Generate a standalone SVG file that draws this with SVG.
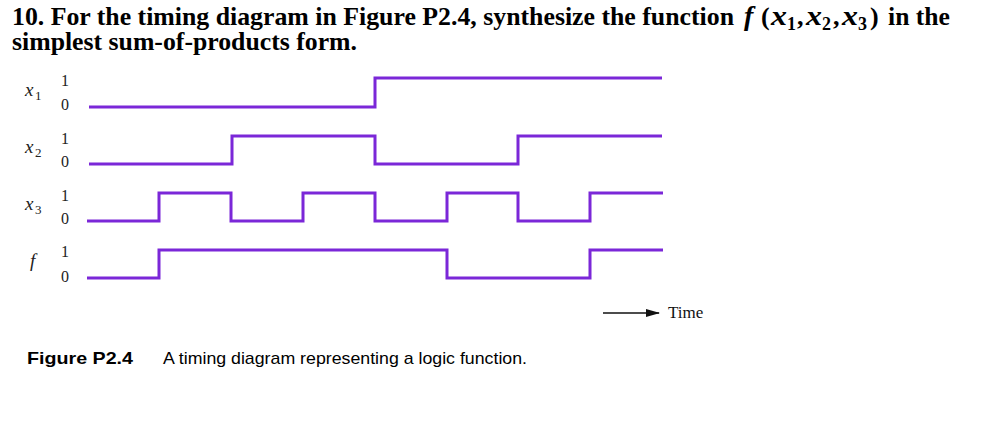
<svg xmlns="http://www.w3.org/2000/svg" width="1003" height="427" viewBox="0 0 1003 427">
<style>
.title{font-family:"Liberation Serif",serif;font-weight:bold;font-size:25px;fill:#000}
.mr{font-family:"Liberation Serif",serif;font-size:26px;font-weight:bold;fill:#000}
.mi{font-family:"Liberation Serif",serif;font-style:italic;font-weight:bold;font-size:28px;fill:#000}
.ms{font-family:"Liberation Serif",serif;font-size:18px;font-weight:bold;fill:#000}
.lab{font-family:"Liberation Serif",serif;font-size:16px;fill:#222}
.var{font-family:"Liberation Serif",serif;font-style:italic;font-size:19px;fill:#222}
.sub{font-family:"Liberation Serif",serif;font-size:13px;fill:#222}
.wave{fill:none;stroke:#7B27D8;stroke-width:3;stroke-linejoin:miter}
.cap{font-family:"Liberation Sans",sans-serif;font-size:17px;fill:#000}
</style>
<defs>
<marker id="arr" markerWidth="14" markerHeight="8" refX="13" refY="4" orient="auto" markerUnits="userSpaceOnUse">
<path d="M0,0 L14,4 L0,8 z" fill="#111"/>
</marker>
</defs>
<rect width="1003" height="427" fill="#fff"/>
<g id="title">
<text class="title" x="12" y="25" textLength="722" lengthAdjust="spacingAndGlyphs">10. For the timing diagram in Figure P2.4, synthesize the function</text>
<text class="mi" x="744" y="25">f</text>
<text class="mr" x="761" y="25">(</text>
<text class="mi" x="771" y="25" textLength="16" lengthAdjust="spacingAndGlyphs">x</text><text class="ms" x="787" y="30">1</text><text class="mr" x="797" y="25">,</text>
<text class="mi" x="806" y="25" textLength="16" lengthAdjust="spacingAndGlyphs">x</text><text class="ms" x="822" y="30">2</text><text class="mr" x="833" y="25">,</text>
<text class="mi" x="842" y="25" textLength="16" lengthAdjust="spacingAndGlyphs">x</text><text class="ms" x="858" y="30">3</text>
<text class="mr" x="870" y="25">)</text>
<text class="title" x="888" y="25" textLength="62" lengthAdjust="spacingAndGlyphs">in the</text>
<text class="title" x="12" y="50" textLength="345" lengthAdjust="spacingAndGlyphs">simplest sum-of-products form.</text>
</g>
<g id="sig-x1">
<text class="var" x="25" y="96">x</text><text class="sub" x="35" y="100">1</text>
<text class="lab" x="61" y="86">1</text><text class="lab" x="61" y="110">0</text>
<polyline class="wave" points="89,107 375,107 375,78 662,78"/>
</g>
<g id="sig-x2">
<text class="var" x="25" y="153">x</text><text class="sub" x="35" y="157">2</text>
<text class="lab" x="61" y="144">1</text><text class="lab" x="61" y="167">0</text>
<polyline class="wave" points="89,164 232,164 232,136 375,136 375,164 518,164 518,136 662,136"/>
</g>
<g id="sig-x3">
<text class="var" x="25" y="210">x</text><text class="sub" x="35" y="214">3</text>
<text class="lab" x="61" y="201">1</text><text class="lab" x="61" y="224">0</text>
<polyline class="wave" points="87,221 159,221 159,193 231,193 231,221 303,221 303,193 375,193 375,221 447,221 447,193 518,193 518,221 590,221 590,193 663,193"/>
</g>
<g id="sig-f">
<text class="var" x="30" y="267">f</text>
<text class="lab" x="61" y="257">1</text><text class="lab" x="61" y="282">0</text>
<polyline class="wave" points="87,278 159,278 159,250 447,250 447,278 590,278 590,250 663,250"/>
</g>
<g id="connectors">
<line x1="603" y1="313" x2="659" y2="313" stroke="#111" stroke-width="1.5" marker-end="url(#arr)"/>
</g>
<g id="time-label">
<text class="lab" x="668" y="318" style="font-size:17px;fill:#111">Time</text>
</g>
<g id="caption">
<text class="cap" x="27" y="364" style="font-weight:bold" textLength="106" lengthAdjust="spacingAndGlyphs">Figure P2.4</text>
<text class="cap" x="163" y="364" textLength="364" lengthAdjust="spacingAndGlyphs">A timing diagram representing a logic function.</text>
</g>
</svg>
